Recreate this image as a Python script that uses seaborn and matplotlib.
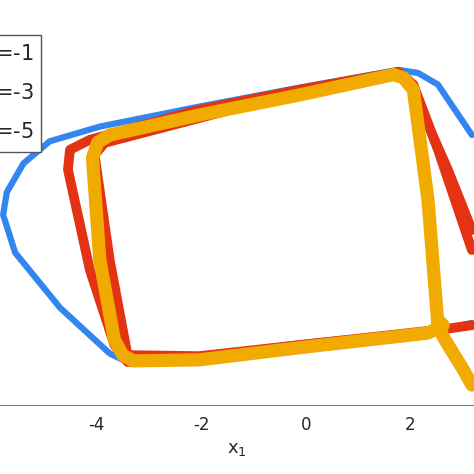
import matplotlib
matplotlib.use("Agg")
import matplotlib.pyplot as plt
import seaborn as sns
import pandas as pd

sns.set_style("white")
plt.rcParams['font.family'] = ['DejaVu Sans']

blue_x = [3.18, 2.53, 2.15, 1.77, -0.13, -2.04, -3.94, -4.90, -5.40, -5.72, -5.79, -5.56, -4.70, -3.75, -3.37, -2.04, -0.13, 1.77, 2.53, 3.18]
blue_y = [5.14, 6.10, 6.32, 6.38, 6.04, 5.68, 5.30, 5.02, 4.60, 4.05, 3.62, 2.90, 1.85, 0.98, 0.80, 0.90, 1.14, 1.33, 1.43, 1.56]

redA_x = [3.18, 2.53, 2.06, 1.77, -0.13, -2.04, -4.13, -4.51, -4.55, -4.13, -3.66, -3.41, -2.04, -0.13, 2.15, 3.18]
redA_y = [2.95, 4.86, 6.10, 6.34, 6.00, 5.62, 5.05, 4.86, 4.48, 2.57, 1.14, 0.82, 0.90, 1.14, 1.37, 1.52]
redB_x = [3.18, 2.72, 1.96, 1.77, -0.13, -3.85, -4.04, -3.75, -3.41, -2.04, 2.34]
redB_y = [3.33, 4.48, 6.19, 6.30, 5.96, 4.99, 4.76, 2.76, 0.95, 0.93, 1.41]

orange_x = [3.18, 3.00, 2.80, 2.63, 2.53, 2.34, 2.06, 1.87, 1.68, -0.13, -2.04, -3.75, -3.98, -4.08, -3.94, -3.66, -3.50, -3.30, -2.04, -0.13, 2.34, 2.63, 2.53]
orange_y = [0.38, 0.70, 1.02, 1.30, 1.52, 3.90, 6.00, 6.23, 6.29, 5.90, 5.52, 5.14, 5.00, 4.70, 2.76, 1.24, 0.95, 0.84, 0.86, 1.09, 1.37, 1.52, 1.62]

labels = ['λ$_2$=-1', 'λ$_2$=-3', 'λ$_2$=-5']
colors = ['#3385f0', '#e43312', '#f0aa00']
xticks = [-4, -2, 0, 2]

fig = plt.figure(figsize=(4.74, 4.74), dpi=100)
ax = fig.add_axes([0, 69/474, 1, 405/474])

def draw(xs, ys, c, lw, lab=None):
    df = pd.DataFrame({'x': xs, 'y': ys})
    sns.lineplot(data=df, x='x', y='y', sort=False, estimator=None, color=c,
                 lw=lw, ax=ax, label=lab, solid_joinstyle='round', solid_capstyle='round')

draw(blue_x, blue_y, colors[0], 4.5, labels[0])
draw(redA_x, redA_y, colors[1], 7, labels[1])
draw(redB_x, redB_y, colors[1], 7)
draw(orange_x, orange_y, colors[2], 9.5, labels[2])

ax.set_xlim(-5.85, 3.22)
ax.set_ylim(0, 7.71)
ax.set_xticks(xticks)
ax.set_xticklabels([str(t) for t in xticks], fontsize=12)
ax.set_yticks([])
ax.set_ylabel('')
ax.set_xlabel('x$_1$', fontsize=13)
for s in ['top', 'right', 'left']:
    ax.spines[s].set_visible(False)
ax.spines['bottom'].set_color('#808080')
ax.tick_params(axis='x', direction='in', length=4, color='#808080', pad=8)

handles, labs = ax.get_legend_handles_labels()
ax.legend(handles, labs, loc='upper right', bbox_to_anchor=(41/474, 1-35/474),
          bbox_transform=fig.transFigure, fontsize=15, frameon=True, fancybox=False,
          edgecolor='#555555', framealpha=1, borderpad=0.35, borderaxespad=0,
          labelspacing=0.75, handlelength=2, handletextpad=0.5)

fig.savefig('out.png', dpi=100)
